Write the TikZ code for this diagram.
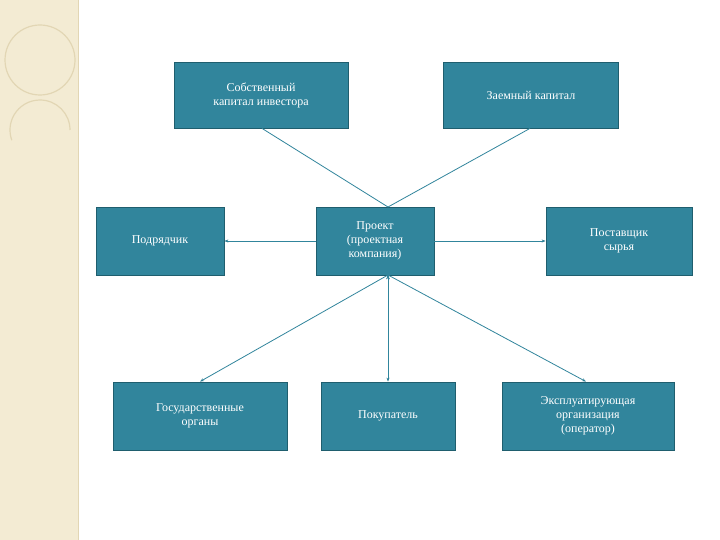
\documentclass[tikz,border=0pt]{standalone}
\usepackage{fontspec}
\setmainfont{Liberation Serif}
\usetikzlibrary{arrows.meta}
\definecolor{boxteal}{HTML}{31859C}
\definecolor{boxedge}{HTML}{1F5E6E}
\definecolor{stripbg}{HTML}{F3EBD3}
\definecolor{stripln}{HTML}{E2D6B4}
\begin{document}
\begin{tikzpicture}[x=1pt,y=-1pt,
  every node/.style={draw=boxedge,thick,rectangle,inner sep=0pt,fill=boxteal,text=white,align=center,font=\fontsize{12}{14}\selectfont},
  link/.style={draw=boxteal,thick},
  arr/.style={link,-{Stealth[length=4pt,width=3pt]}}]
  \useasboundingbox (0,0) rectangle (720,540);
  \fill[white] (0,0) rectangle (720,540);
  \fill[stripbg] (0,0) rectangle (78,540);
  \draw[stripln] (78,0) -- (78,540);
  \draw[stripln,very thick] (75,60) arc (0:360:35);
  \draw[stripln,very thick] (70,130) arc (0:-200:30);

  \node[minimum width=174,minimum height=66] (own) at (261,95) {Собственный\\капитал инвестора};
  \node[minimum width=175,minimum height=66] (loan) at (531,95) {Заемный капитал};
  \node[minimum width=118,minimum height=68] (proj) at (375,241) {Проект\\(проектная\\компания)};
  \node[minimum width=128,minimum height=68] (contr) at (160,241) {Подрядчик};
  \node[minimum width=146,minimum height=68] (suppl) at (619,241) {Поставщик\\сырья};
  \node[minimum width=174,minimum height=68] (gov) at (200,416) {Государственные\\органы};
  \node[minimum width=134,minimum height=68] (buyer) at (388,416) {Покупатель};
  \node[minimum width=172,minimum height=68] (oper) at (588,416) {Эксплуатирующая\\организация\\(оператор)};

  \coordinate (ptop) at (388,207);
  \coordinate (pbot) at (388,275);
  \path [link] (own.south -| 262,0) edge (ptop);
  \path [link] (loan.south -| 530,0) edge (ptop);
  \path [arr] (proj) edge (contr);
  \path [arr] (proj) edge (suppl);
  \path [arr] (pbot) edge (gov.north);
  \path [arr] (pbot) edge (buyer.north);
  \path [arr] (pbot) edge (oper.north -| 586,0);
\end{tikzpicture}
\end{document}
